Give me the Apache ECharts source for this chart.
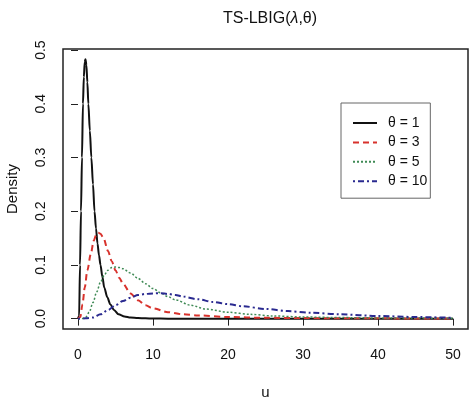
<!DOCTYPE html>
<html>
<head>
<meta charset="utf-8">
<script src="https://cdn.jsdelivr.net/npm/echarts@6/dist/echarts.min.js"></script>
<style>
html, body { margin: 0; padding: 0; background: #fff; }
#chart { width: 474px; height: 398px; }
</style>
</head>
<body>
<div id="chart"></div>
<script>
// values
var u1 = [0, 0.15, 0.27, 0.4, 0.53, 0.66, 0.78, 0.9, 1.0, 1.12, 1.25, 1.38, 1.58, 1.78, 2.0, 2.2, 2.4, 2.6, 2.8, 3.0, 3.25, 3.5, 3.9, 4.3, 4.8, 5.4, 6.2, 7, 8, 9, 10, 12, 20, 30, 40, 50];
var d1 = [0, 0.005, 0.1, 0.2, 0.3, 0.4, 0.45, 0.478, 0.483, 0.472, 0.44, 0.4, 0.35, 0.3, 0.25, 0.2, 0.168, 0.14, 0.118, 0.1, 0.078, 0.058, 0.04, 0.027, 0.016, 0.008, 0.004, 0.002, 0.001, 0.0005, 0.0002, 0, 0, 0, 0, 0];

var u3 = [0, 0.3, 0.6, 0.9, 1.25, 1.7, 2.1, 2.4, 2.7, 3.0, 3.4, 4, 4.5, 5, 5.5, 6, 7, 8, 9, 10, 12, 14, 16, 20, 25, 30, 40, 50];
var d3 = [0, 0.003, 0.027, 0.058, 0.09, 0.12, 0.145, 0.155, 0.16, 0.158, 0.15, 0.126, 0.107, 0.09, 0.076, 0.065, 0.047, 0.034, 0.025, 0.019, 0.012, 0.008, 0.006, 0.003, 0.0015, 0.001, 0.0005, 0.0003];

var u5 = [0, 0.5, 1, 1.5, 2, 2.5, 3, 3.5, 4, 4.5, 5, 5.5, 6, 7, 8, 9, 10, 11, 12, 13, 15, 17, 20, 23, 26, 30, 35, 40, 50];
var d5 = [0, 0, 0.002, 0.012, 0.03, 0.05, 0.068, 0.081, 0.09, 0.095, 0.096, 0.095, 0.093, 0.085, 0.075, 0.065, 0.056, 0.048, 0.041, 0.035, 0.025, 0.018, 0.012, 0.008, 0.005, 0.003, 0.002, 0.0013, 0.0007];

var u10 = [0, 1, 2, 3, 4, 5, 6, 7, 8, 9, 10, 11, 12, 13, 14, 16, 18, 20, 22, 25, 28, 31, 35, 40, 45, 50];
var d10 = [0, 0.0005, 0.002, 0.008, 0.016, 0.025, 0.033, 0.039, 0.044, 0.046, 0.047, 0.0475, 0.046, 0.044, 0.041, 0.036, 0.031, 0.027, 0.023, 0.018, 0.014, 0.011, 0.008, 0.005, 0.003, 0.0015];

var legendNames = ['θ = 1', 'θ = 3', 'θ = 5', 'θ = 10'];
var xTicks = [0, 10, 20, 30, 40, 50];
var yTicks = [0, 0.1, 0.2, 0.3, 0.4, 0.5];

function pairs(xs, ys) {
    return xs.map(function (x, i) { return [x, ys[i]]; });
}

var font = 'Liberation Sans, Arial, sans-serif';

function curve(name, xs, ys, color, width, dash) {
    return {
        type: 'line',
        name: name,
        data: pairs(xs, ys),
        symbol: 'none',
        smooth: 0.3,
        smoothMonotone: 'x',
        lineStyle: { color: color, width: width, type: dash },
        itemStyle: { color: color }
    };
}

var option = {
    animation: false,
    backgroundColor: '#fff',
    title: {
        text: 'TS-LBIG({l|λ},θ)',
        left: 265,
        textAlign: 'center',
        top: 6,
        textStyle: {
            fontFamily: font, fontSize: 16, fontWeight: 'normal', color: '#111',
            rich: { l: { fontFamily: font, fontSize: 16, fontStyle: 'italic', color: '#111' } }
        }
    },
    grid: {
        left: 63, right: 6, top: 49, bottom: 69,
        containLabel: false,
        outerBoundsMode: 'none',
        show: true, borderColor: '#222', borderWidth: 1.5
    },
    legend: {
        data: legendNames,
        orient: 'vertical',
        left: 341,
        top: 103,
        borderColor: '#666',
        borderWidth: 1,
        padding: [13, 3, 10, 11],
        itemWidth: 24,
        itemHeight: 12,
        itemGap: 5.4,
        itemStyle: { opacity: 0 },
        textStyle: { fontFamily: font, fontSize: 14, color: '#111', padding: [0, 0, 0, 6] }
    },
    xAxis: {
        type: 'value',
        min: -2,
        max: 52,
        name: 'u',
        nameLocation: 'middle',
        nameGap: 56,
        nameTextStyle: { fontFamily: font, fontSize: 15, color: '#111' },
        axisLine: { show: false },
        splitLine: { show: false },
        axisTick: { show: true, length: 7, customValues: xTicks, lineStyle: { color: '#222' } },
        axisLabel: {
            customValues: xTicks, margin: 19,
            fontFamily: font, fontSize: 14, color: '#111'
        }
    },
    yAxis: {
        type: 'value',
        min: -0.0193,
        max: 0.502,
        name: 'Density',
        nameLocation: 'middle',
        nameRotate: 90,
        nameGap: 43,
        nameTextStyle: { fontFamily: font, fontSize: 15, color: '#111' },
        axisLine: { show: false },
        splitLine: { show: false },
        axisTick: { show: true, length: 7, customValues: yTicks, lineStyle: { color: '#222' } },
        axisLabel: {
            customValues: yTicks, rotate: 90, margin: 15,
            fontFamily: font, fontSize: 14, color: '#111',
            formatter: function (v) { return v.toFixed(1); }
        }
    },
    series: [
        curve(legendNames[0], u1, d1, '#111111', 2, 'solid'),
        curve(legendNames[1], u3, d3, '#d8322c', 2, [6, 4]),
        curve(legendNames[2], u5, d5, '#3f8a55', 1.5, [2, 2]),
        curve(legendNames[3], u10, d10, '#2a2a90', 2, [2, 3, 6, 3])
    ]
};

var chart = echarts.init(document.getElementById('chart'), null, { renderer: 'canvas' });
chart.setOption(option);
</script>
</body>
</html>
